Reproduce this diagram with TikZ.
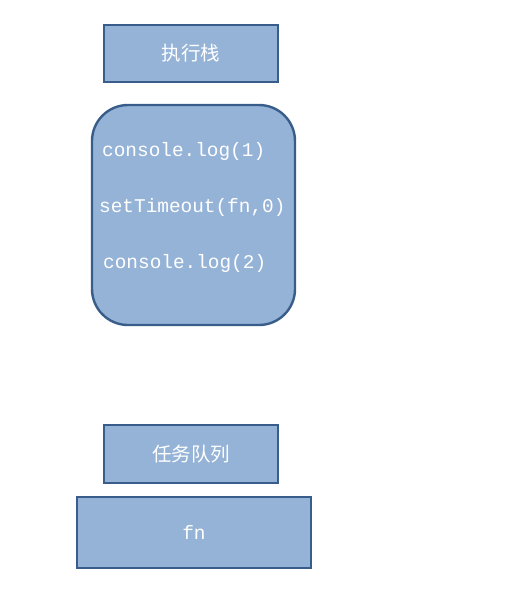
\documentclass[tikz,border=0pt]{standalone}
\usepackage{fontspec}
\setmonofont{Liberation Mono}
\newfontfamily\cjk{Noto Sans CJK SC}
\definecolor{boxfill}{HTML}{95B3D7}
\definecolor{boxline}{HTML}{385D8A}

\begin{document}
\begin{tikzpicture}[x=1pt, y=-1pt]
\tikzstyle{box}=[rectangle, draw=boxline, fill=boxfill, line width=2.4pt,
                        inner sep=0pt, text=white]
 \tikzstyle{ttl}=[font=\cjk\fontsize{19.5}{21}\selectfont]
 \tikzstyle{code}=[anchor=west, inner sep=0pt, text=white, font=\ttfamily\fontsize{19.4}{21}\selectfont]
\useasboundingbox (0,0) rectangle (525,598);
	\node[box, ttl, minimum width=174pt, minimum height=57pt] (stackT) at (191,53.5){执行栈};
	\node[box, rounded corners=36pt, minimum width=203pt, minimum height=220pt] (stack) at (193.5,215){};
	\node[code] (log1) at (102,151){console.log(1)};
	\node[code] (timer) at (99,207){setTimeout(fn,0)};
	\node[code] (log2) at (103,263){console.log(2)};
	\node[box, ttl, minimum width=174pt, minimum height=58pt] (queueT) at (191,454){任务队列};
	\node[box, font=\ttfamily\fontsize{19.4}{21}\selectfont, minimum width=234pt, minimum height=71pt] (queue) at (194,532.5){fn};
\end{tikzpicture}
\end{document}
